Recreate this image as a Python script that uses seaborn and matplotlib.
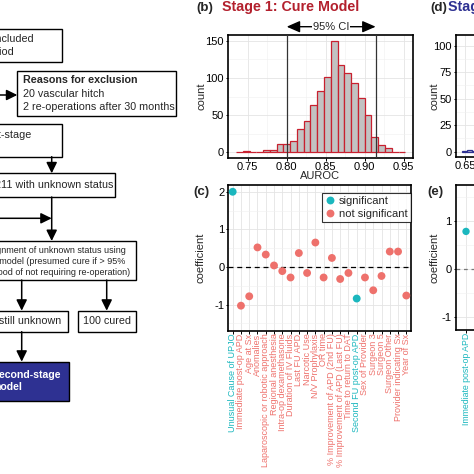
import matplotlib
matplotlib.use("Agg")
import matplotlib.pyplot as plt
from matplotlib.patches import Rectangle
from matplotlib.ticker import MultipleLocator, FormatStrFormatter
import numpy as np
import pandas as pd
import seaborn as sns

# (b) stage 1 bootstrap AUROC histogram
b_bin_start = 0.735
b_bin_width = 0.00868
b_counts = [1, 2, 1, 0, 3, 3, 11, 12, 16, 31, 42, 64, 82, 101, 149,
            118, 106, 93, 73, 50, 21, 10, 6, 1, 1]
b_ci = [0.800, 0.914]

# (d) stage 2 histogram, only the left tail is in view
d_bin_start = 0.6445
d_bin_width = 0.0083
d_counts = [1, 2, 1, 2]

# (c) stage 1 coefficients
c_terms = ["Unusual Cause of UPJO", "Immediate post-op APD", "Age at Sx", "Anomalies",
           "Laparoscopic or robotic approach", "Regional anesthesia",
           "Intra-op dexamethasone", "Duration of IV Fluids", "Last FU APD",
           "Narcotic Use", "N/V Prophylaxis", "OR time",
           "% Improvement of APD (2nd FU)", "% Improvement of APD (Last FU)",
           "Time to return to DAT", "Second FU post-op APD", "Sex of Provider",
           "Surgeon 3", "Surgeon 5", "Surgeon Other", "Provider indicating Sx",
           "Year of Sx"]
c_coef = [2.0, -1.03, -0.78, 0.52, 0.33, 0.04, -0.11, -0.28, 0.37, -0.16, 0.65,
          -0.28, 0.24, -0.32, -0.16, -0.84, -0.28, -0.62, -0.24, 0.41, 0.41, -0.76]
c_signif = [True, False, False, False, False, False, False, False, False, False, False,
            False, False, False, False, True, False, False, False, False, False, False]

# (e) stage 2 coefficients, only the first is in view
e_terms = ["Immediate post-op APD"]
e_coef = [0.78]
e_signif = [True]

TEAL = "#1BB7BE"
SALMON = "#EE716C"
RED = "#C8202F"
TITLE_RED = "#B3202D"
NAVY = "#2E3192"
GRAY_FILL = "#C2C2C2"

sns.set_theme(style="white")
plt.rcParams["font.family"] = ["Liberation Sans", "DejaVu Sans"]
plt.rcParams["axes.unicode_minus"] = False

W = H = 474
fig = plt.figure(figsize=(4.74, 4.74), dpi=100)


def px_axes(left, top, right, bottom, **kw):
    return fig.add_axes([left / W, 1 - bottom / H, (right - left) / W, (bottom - top) / H], **kw)


def ftext(x, y, s, **kw):
    fig.text(x / W, 1 - y / H, s, **kw)


def style_panel(ax):
    ax.set_axisbelow(True)
    for sp in ax.spines.values():
        sp.set_visible(True)
        sp.set_color("black")
        sp.set_linewidth(1.2)
    ax.tick_params(which="major", bottom=True, left=True, length=1.8, width=0.7,
                   color="black", pad=1, labelsize=8, labelcolor="black")
    ax.tick_params(which="minor", bottom=False, left=False, length=0)
    ax.grid(True, which="major", color="#E4E4E4", lw=0.6)
    ax.grid(True, which="minor", color="#F0F0F0", lw=0.4)


def hist_frame(start, width, counts):
    mids = start + width * (np.arange(len(counts)) + 0.5)
    return pd.DataFrame({"auroc": mids, "n": counts})


# ---------------- (a) flow chart ----------------
fa = px_axes(0, 0, W, H)
fa.set_xlim(0, W)
fa.set_ylim(H, 0)
fa.axis("off")
fa.patch.set_alpha(0)

boxes = [(-20, 29.3, 61.7, 62.3, "white"),
         (17.3, 70.7, 175.7, 116, "white"),
         (-20, 124.3, 61.7, 156.7, "white"),
         (-20, 173.3, 115, 197, "white"),
         (-20, 241, 136, 280, "white"),
         (-20, 310.7, 68.3, 331.7, "white"),
         (77.7, 310.7, 136, 331.7, "white"),
         (-20, 361.7, 69, 400.7, NAVY)]
for l, t, r, b, fc in boxes:
    fa.add_patch(Rectangle((l, t), r - l, b - t, facecolor=fc, edgecolor="black", lw=1.0))

arrows = [((-5, 95), (17.3, 95)),
          ((51.7, 156.7), (51.7, 173.3)),
          ((51.7, 197), (51.7, 241)),
          ((-5, 218.3), (51.7, 218.3)),
          ((21.7, 280), (21.7, 310.7)),
          ((106.7, 280), (106.7, 310.7)),
          ((21.7, 331.7), (21.7, 361.7))]
for start, end in arrows:
    fa.annotate("", xy=end, xytext=start,
                arrowprops=dict(arrowstyle="-|>,head_length=0.65,head_width=0.32",
                                mutation_scale=10, lw=1.1, color="black",
                                shrinkA=0, shrinkB=0))

fs = 7.75
fa.text(33.3, 39, "407 patients included", ha="right", va="center", fontsize=fs)
fa.text(14, 52.3, "during study period", ha="right", va="center", fontsize=fs)
fa.text(22.7, 80, "Reasons for exclusion", ha="left", va="center", fontsize=fs, fontweight="bold")
fa.text(22.7, 93.5, "20 vascular hitch", ha="left", va="center", fontsize=fs)
fa.text(22.7, 106.5, "2 re-operations after 30 months", ha="left", va="center", fontsize=fs)
fa.text(31.7, 135, "385 included in first-stage", ha="right", va="center", fontsize=fs)
fa.text(113.3, 185.5, "211 with unknown status", ha="right", va="center", fontsize=fs)
fa.text(126, 250, "Assignment of unknown status using", ha="right", va="center", fontsize=6.5)
fa.text(125.3, 261.5, "first-stage model (presumed cure if > 95%", ha="right", va="center", fontsize=6.5)
fa.text(130, 272.5, "likelihood of not requiring re-operation)", ha="right", va="center", fontsize=6.5)
fa.text(61, 321.5, "111 still unknown", ha="right", va="center", fontsize=fs)
fa.text(107, 321.5, "100 cured", ha="center", va="center", fontsize=fs)
fa.text(61, 375, "Second-stage", ha="right", va="center", fontsize=7.6, fontweight="bold", color="white")
fa.text(21.7, 387, "model", ha="right", va="center", fontsize=7.6, fontweight="bold", color="white")

# ---------------- (b) stage 1 histogram ----------------
ax_b = px_axes(227.7, 35, 412.7, 158)
sns.histplot(data=hist_frame(b_bin_start, b_bin_width, b_counts), x="auroc", weights="n",
             bins=len(b_counts),
             binrange=(b_bin_start, b_bin_start + b_bin_width * len(b_counts)),
             color=GRAY_FILL, edgecolor=RED, linewidth=0.9, alpha=1, ax=ax_b)
style_panel(ax_b)
ax_b.set_xlim(0.7244, 0.9615)
ax_b.set_ylim(-7.4, 157.6)
ax_b.xaxis.set_major_locator(MultipleLocator(0.05))
ax_b.xaxis.set_minor_locator(MultipleLocator(0.025))
ax_b.xaxis.set_major_formatter(FormatStrFormatter("%.2f"))
ax_b.yaxis.set_major_locator(MultipleLocator(50))
ax_b.yaxis.set_minor_locator(MultipleLocator(25))
for v in b_ci:
    ax_b.axvline(v, color="#333333", lw=0.9, zorder=4)
ax_b.set_xlabel("AUROC", fontsize=8, va="center")
ax_b.xaxis.set_label_coords(0.5, (158 - 175.7) / 123)
ax_b.set_ylabel("count", fontsize=8, va="center")
ax_b.yaxis.set_label_coords((201.7 - 227.7) / 185, 0.5)
ci_y = 1 + (35 - 26.7) / 123
ax_b.annotate("", xy=(b_ci[1], ci_y), xytext=(b_ci[0], ci_y),
              xycoords=("data", "axes fraction"), textcoords=("data", "axes fraction"),
              arrowprops=dict(arrowstyle="<|-|>,head_length=0.8,head_width=0.35",
                              mutation_scale=10, lw=1.0, color="black",
                              shrinkA=0, shrinkB=0), annotation_clip=False)
ax_b.text(np.mean(b_ci), ci_y, "95% CI", transform=ax_b.get_xaxis_transform(),
          ha="center", va="center", fontsize=8,
          bbox=dict(facecolor="white", edgecolor="none", pad=0.6), clip_on=False)

# ---------------- (d) stage 2 histogram ----------------
ax_d = px_axes(455.7, 35, 640.7, 157)
sns.histplot(data=hist_frame(d_bin_start, d_bin_width, d_counts), x="auroc", weights="n",
             bins=len(d_counts),
             binrange=(d_bin_start, d_bin_start + d_bin_width * len(d_counts)),
             color="#B9BBD0", edgecolor=NAVY, linewidth=0.9, alpha=1, ax=ax_d)
style_panel(ax_d)
ax_d.set_xlim(0.6345, 0.943)
ax_d.set_ylim(-5.0, 110.1)
ax_d.xaxis.set_major_locator(MultipleLocator(0.05))
ax_d.xaxis.set_minor_locator(MultipleLocator(0.025))
ax_d.xaxis.set_major_formatter(FormatStrFormatter("%.2f"))
ax_d.yaxis.set_major_locator(MultipleLocator(25))
ax_d.yaxis.set_minor_locator(MultipleLocator(12.5))
ax_d.set_xlabel("AUROC", fontsize=8, va="center")
ax_d.xaxis.set_label_coords(0.5, (157 - 175.7) / 122)
ax_d.set_ylabel("count", fontsize=8, va="center")
ax_d.yaxis.set_label_coords((435 - 455.7) / 185, 0.5)

# ---------------- (c) stage 1 coefficients ----------------
ax_c = px_axes(228.3, 185, 410.7, 330.5)
c_df = pd.DataFrame({"term": c_terms, "coef": c_coef,
                     "group": ["significant" if s else "not significant" for s in c_signif]})
ax_c.axhline(0, color="black", lw=0.9, ls=(0, (4, 3)), zorder=2)
sns.scatterplot(data=c_df, x="term", y="coef", hue="group",
                hue_order=["significant", "not significant"],
                palette={"significant": TEAL, "not significant": SALMON},
                s=32, edgecolor="none", ax=ax_c, zorder=3)
style_panel(ax_c)
ax_c.set_xlim(-0.53, len(c_terms) - 0.47)
ax_c.set_ylim(-1.69, 2.18)
ax_c.yaxis.set_major_locator(MultipleLocator(1))
ax_c.yaxis.set_minor_locator(MultipleLocator(0.5))
ax_c.set_xticks(range(len(c_terms)))
ax_c.set_xticklabels(c_terms, rotation=90, ha="center", va="top", fontsize=6.5)
ax_c.tick_params(axis="x", pad=0.3)
for lbl, sig in zip(ax_c.get_xticklabels(), c_signif):
    lbl.set_color(TEAL if sig else SALMON)
ax_c.set_xlabel("")
ax_c.set_ylabel("coefficient", fontsize=8, va="center")
ax_c.yaxis.set_label_coords((200 - 228.3) / 182.4, 0.5)
sns.move_legend(ax_c, "upper right", bbox_to_anchor=(1, 1 - 7.7 / 145.5), title=None,
                frameon=True, fancybox=False, fontsize=8, borderaxespad=0,
                handlelength=0.8, handletextpad=0.4, borderpad=0.3, labelspacing=0.25)
leg = ax_c.get_legend()
leg.get_frame().set_edgecolor("black")
leg.get_frame().set_linewidth(0.8)

# ---------------- (e) stage 2 coefficients ----------------
ax_e = px_axes(455.7, 185, 640.7, 330)
e_df = pd.DataFrame({"term": e_terms, "coef": e_coef,
                     "group": ["significant" if s else "not significant" for s in e_signif]})
ax_e.axhline(0, color="#777777", lw=0.9, ls=(0, (3, 3)), zorder=2)
sns.scatterplot(data=e_df, x="term", y="coef", hue="group",
                palette={"significant": TEAL, "not significant": SALMON},
                s=28, edgecolor="none", ax=ax_e, zorder=3, legend=False)
style_panel(ax_e)
ax_e.set_xlim(-0.6, 10.16)
ax_e.set_ylim(-1.28, 1.75)
ax_e.yaxis.set_major_locator(MultipleLocator(1))
ax_e.yaxis.set_minor_locator(MultipleLocator(0.5))
ax_e.set_xticks(range(len(e_terms)))
ax_e.set_xticklabels(e_terms, rotation=90, ha="center", va="top", fontsize=6.3)
ax_e.tick_params(axis="x", pad=0.3)
for lbl, sig in zip(ax_e.get_xticklabels(), e_signif):
    lbl.set_color(TEAL if sig else SALMON)
ax_e.set_xlabel("")
ax_e.set_ylabel("coefficient", fontsize=8, va="center")
ax_e.yaxis.set_label_coords((435 - 455.7) / 185, 0.5)

# ---------------- panel titles ----------------
ftext(196.7, 7.5, "(b)", fontsize=9.6, fontweight="bold", va="center")
ftext(222, 7.5, "Stage 1: Cure Model", fontsize=10.3, fontweight="bold", color=TITLE_RED, va="center")
ftext(193, 191.7, "(c)", fontsize=9.6, fontweight="bold", va="center")
ftext(430, 7.5, "(d)", fontsize=9.6, fontweight="bold", va="center")
ftext(448.3, 7.5, "Stage 2: Second-Stage Model", fontsize=10.3, fontweight="bold", color=NAVY, va="center")
ftext(427, 191.7, "(e)", fontsize=9.6, fontweight="bold", va="center")

fig.savefig("out.png", dpi=100)
